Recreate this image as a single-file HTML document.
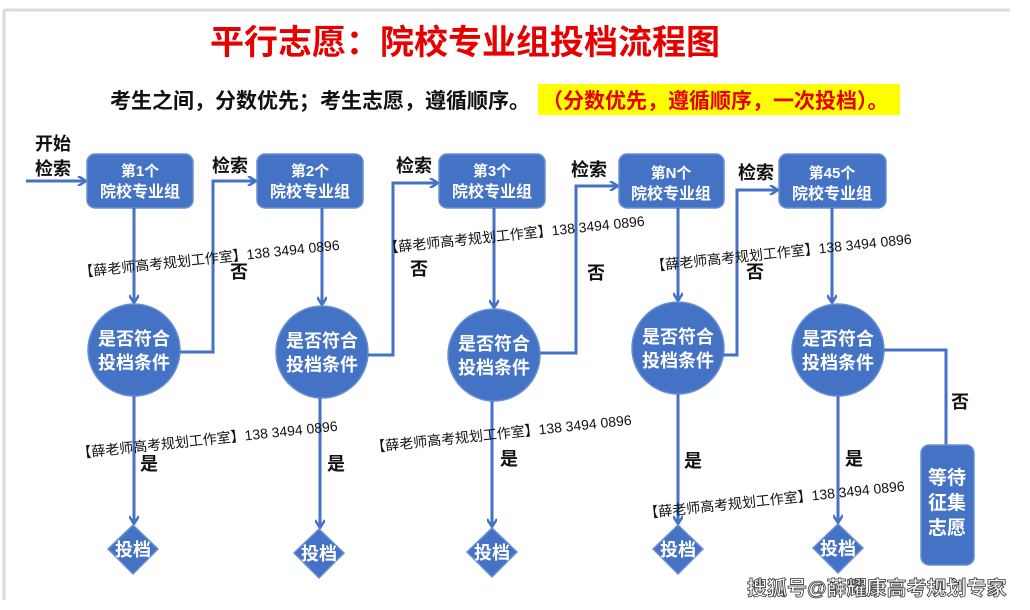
<!DOCTYPE html>
<html><head><meta charset="utf-8"><style>
html,body{margin:0;padding:0;background:#fff;}
svg{display:block;font-family:"Liberation Sans","Noto Sans CJK SC",sans-serif;}
.b{fill:#4472c4;stroke:#6a8fd4;stroke-width:1.5}
.l{stroke:#4472c4;stroke-width:3;fill:none}
.w{fill:#fff;font-weight:bold;text-anchor:middle}
.k{fill:#111;font-weight:bold;font-size:18px}
.wm{fill:#111;font-size:14px}
</style></head><body>
<svg width="1030" height="610" viewBox="0 0 1030 610">
<defs><marker id="a" markerWidth="10" markerHeight="10" refX="8" refY="5" orient="auto" markerUnits="userSpaceOnUse"><path d="M1,0 L9,5 L1,10" fill="none" stroke="#4472c4" stroke-width="2.5"/></marker></defs>
<line x1="4" y1="10" x2="1010" y2="10" stroke="#d6dce4" stroke-width="3"/>
<line x1="4" y1="10" x2="4" y2="600" stroke="#d6dce4" stroke-width="3"/>
<text x="465" y="54" fill="#e60000" font-size="34" font-weight="bold" text-anchor="middle">平行志愿：院校专业组投档流程图</text>
<rect x="538" y="84" width="362" height="31" fill="#ffff00"/>
<text x="110" y="108" font-size="21" font-weight="bold" fill="#111">考生之间，分数优先；考生志愿，遵循顺序。</text>
<text x="542" y="108" font-size="21" font-weight="bold" fill="#e60000">（分数优先，遵循顺序，一次投档）。</text>
<text x="35" y="150" class="k">开始</text><text x="35" y="175" class="k">检索</text>
<line class="l" x1="26" y1="181" x2="85" y2="181" marker-end="url(#a)"/>
<!-- boxes -->
<g>
<rect class="b" x="87" y="154" width="106" height="54" rx="8"/>
<text class="w" x="140" y="176" font-size="15">第1个</text><text class="w" x="140" y="197" font-size="16">院校专业组</text>
<rect class="b" x="257" y="154" width="106" height="54" rx="8"/>
<text class="w" x="310" y="176" font-size="15">第2个</text><text class="w" x="310" y="197" font-size="16">院校专业组</text>
<rect class="b" x="439" y="154" width="106" height="54" rx="8"/>
<text class="w" x="492" y="176" font-size="15">第3个</text><text class="w" x="492" y="197" font-size="16">院校专业组</text>
<rect class="b" x="619" y="154" width="105" height="54" rx="8"/>
<text class="w" x="671" y="178" font-size="15">第N个</text><text class="w" x="671" y="199" font-size="16">院校专业组</text>
<rect class="b" x="779" y="154" width="107" height="54" rx="8"/>
<text class="w" x="832" y="178" font-size="15">第45个</text><text class="w" x="832" y="199" font-size="16">院校专业组</text>
</g>
<!-- vertical box->circle -->
<line class="l" x1="134" y1="208" x2="134" y2="302" marker-end="url(#a)"/>
<line class="l" x1="322" y1="208" x2="322" y2="304" marker-end="url(#a)"/>
<line class="l" x1="494" y1="208" x2="494" y2="307" marker-end="url(#a)"/>
<line class="l" x1="678" y1="208" x2="678" y2="300" marker-end="url(#a)"/>
<line class="l" x1="832" y1="208" x2="832" y2="302" marker-end="url(#a)"/>
<!-- circles -->
<circle class="b" cx="134" cy="350" r="46"/>
<circle class="b" cx="322" cy="352" r="46"/>
<circle class="b" cx="494" cy="355" r="46"/>
<circle class="b" cx="678" cy="348" r="46"/>
<circle class="b" cx="838" cy="350" r="46"/>
<g font-size="18">
<text class="w" x="134" y="345">是否符合</text><text class="w" x="134" y="369">投档条件</text>
<text class="w" x="322" y="347">是否符合</text><text class="w" x="322" y="371">投档条件</text>
<text class="w" x="494" y="350">是否符合</text><text class="w" x="494" y="374">投档条件</text>
<text class="w" x="678" y="343">是否符合</text><text class="w" x="678" y="367">投档条件</text>
<text class="w" x="838" y="345">是否符合</text><text class="w" x="838" y="369">投档条件</text>
</g>
<!-- no connectors -->
<polyline class="l" points="180,352 213,352 213,181 255,181" marker-end="url(#a)"/>
<polyline class="l" points="368,355 393,355 393,183 437,183" marker-end="url(#a)"/>
<polyline class="l" points="540,353 576,353 576,186 617,186" marker-end="url(#a)"/>
<polyline class="l" points="723,355 737,355 737,190 777,190" marker-end="url(#a)"/>
<polyline class="l" points="884,350 946,350 946,445"/>
<text x="212" y="172" class="k">检索</text>
<text x="396" y="172" class="k">检索</text>
<text x="571" y="176" class="k">检索</text>
<text x="738" y="179" class="k">检索</text>
<text x="230" y="278" class="k">否</text>
<text x="410" y="275" class="k">否</text>
<text x="587" y="279" class="k">否</text>
<text x="746" y="278" class="k">否</text>
<text x="951" y="408" class="k">否</text>
<!-- yes connectors -->
<line class="l" x1="134" y1="396" x2="134" y2="523" marker-end="url(#a)"/>
<line class="l" x1="320" y1="398" x2="320" y2="527" marker-end="url(#a)"/>
<line class="l" x1="492" y1="401" x2="492" y2="526" marker-end="url(#a)"/>
<line class="l" x1="678" y1="394" x2="678" y2="523" marker-end="url(#a)"/>
<line class="l" x1="838" y1="396" x2="838" y2="522" marker-end="url(#a)"/>
<text x="140" y="470" class="k">是</text>
<text x="327" y="470" class="k">是</text>
<text x="500" y="465" class="k">是</text>
<text x="684" y="467" class="k">是</text>
<text x="845" y="465" class="k">是</text>
<!-- diamonds -->
<g>
<polygon class="b" points="133,525 158,549 133,574 108,549"/>
<polygon class="b" points="319,529 344,553 319,578 294,553"/>
<polygon class="b" points="492,528 517,552 492,577 467,552"/>
<polygon class="b" points="678,525 703,549 678,574 653,549"/>
<polygon class="b" points="838,524 863,548 838,573 813,548"/>
<text class="w" x="133" y="556" font-size="18">投档</text>
<text class="w" x="319" y="560" font-size="18">投档</text>
<text class="w" x="492" y="559" font-size="18">投档</text>
<text class="w" x="678" y="556" font-size="18">投档</text>
<text class="w" x="838" y="555" font-size="18">投档</text>
</g>
<rect class="b" x="921" y="445" width="53" height="120" rx="8"/>
<text class="w" x="947" y="484" font-size="19">等待</text>
<text class="w" x="947" y="509" font-size="19">征集</text>
<text class="w" x="947" y="534" font-size="19">志愿</text>
<!-- watermarks -->
<g class="wm">
<text transform="translate(80,277) rotate(-6)">【薛老师高考规划工作室】138 3494 0896</text>
<text transform="translate(385,253) rotate(-6)">【薛老师高考规划工作室】138 3494 0896</text>
<text transform="translate(652,271) rotate(-6)">【薛老师高考规划工作室】138 3494 0896</text>
<text transform="translate(78,458) rotate(-6)">【薛老师高考规划工作室】138 3494 0896</text>
<text transform="translate(372,452) rotate(-6)">【薛老师高考规划工作室】138 3494 0896</text>
<text transform="translate(645,518) rotate(-6)">【薛老师高考规划工作室】138 3494 0896</text>
</g>
<text x="747" y="595" font-size="20" font-weight="bold" fill="#fff" stroke="#333" stroke-width="0.8">搜狐号@薛耀康高考规划专家</text>
</svg>
</body></html>
